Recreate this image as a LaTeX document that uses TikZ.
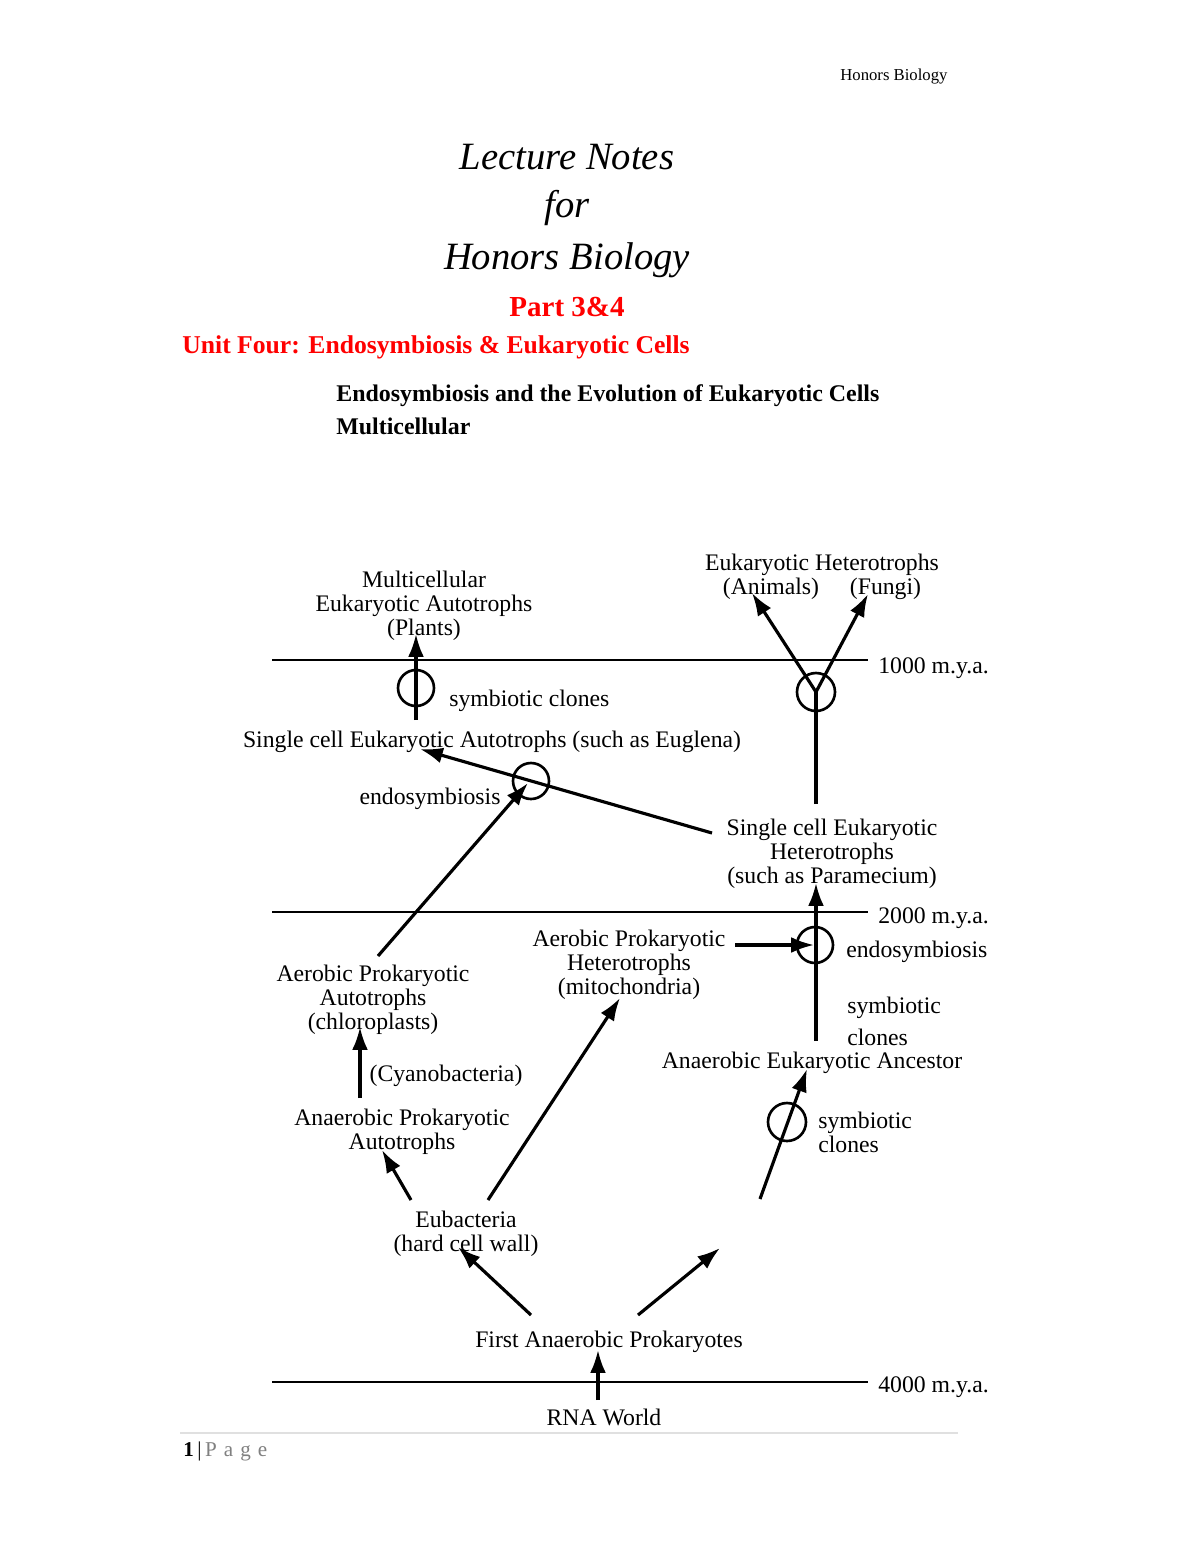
\documentclass[tikz,border=0pt]{standalone}
\usepackage{fontspec}
\setmainfont{Liberation Serif}
\usetikzlibrary{arrows.meta,positioning}

\tikzset{
  lbl/.style={align=center, inner sep=0pt, font=\fontsize{13.5}{13.6}\selectfont},
  ttl/.style={inner sep=0pt, font=\fontsize{22}{24}\selectfont\itshape},
  redhead/.style={inner sep=0pt, text=red, font=\bfseries},
  timeline/.style={line width=1.5pt},
  arr/.style={line width=1.8pt, -{Latex[length=13pt,width=9pt]}},
  plain/.style={line width=1.8pt},
  ring/.style={circle, draw, line width=1.5pt, minimum size=0.72cm, inner sep=0pt}
}

\begin{document}
\begin{tikzpicture}[x=0.02cm, y=-0.02cm]
\fill[white] (0,0) rectangle (1200,1553);
\useasboundingbox (0,0) rectangle (1200,1553);

% page head
\node[anchor=west, inner sep=0pt, font=\fontsize{9.5}{11}\selectfont] (hdr) at (840,77) {Honors Biology};
\node[ttl] (lec) at (567,157) {Lecture Notes};
\node[ttl] (for) at (567,208) {for};
\node[ttl] (hon) at (567,260) {Honors Biology};
\node[redhead, font=\fontsize{16.5}{18}\selectfont\bfseries] (part) at (567,307) {Part 3\&4};
\node[redhead, anchor=west, font=\fontsize{14.6}{16}\selectfont\bfseries] (unit) at (182,347) {Unit Four: Endosymbiosis \& Eukaryotic Cells};
\node[anchor=west, inner sep=0pt, font=\fontsize{13.6}{15}\selectfont\bfseries] (sub1) at (336,396) {Endosymbiosis and the Evolution of Eukaryotic Cells};
\node[anchor=west, inner sep=0pt, font=\fontsize{13.6}{15}\selectfont\bfseries] (sub2) at (336,426) {Multicellular};

% time lines
\draw[timeline] (272,660) -- (868,660);
\draw[timeline] (272,912) -- (868,912);
\draw[timeline] (272,1382) -- (868,1382);
\node[lbl, anchor=west] (m1) at (878,668) {1000 m.y.a.};
\node[lbl, anchor=west] (m2) at (878,918) {2000 m.y.a.};
\node[lbl, anchor=west] (m4) at (878,1387) {4000 m.y.a.};

% labels
\node[lbl] (plants) at (424,606) {Multicellular\\Eukaryotic Autotrophs\\(Plants)};
\node[lbl] (ehet) at (822,577) {Eukaryotic Heterotrophs\\(Animals)\hspace{1.3em}(Fungi)};
\node[lbl, anchor=west] (sc1) at (449,701) {symbiotic clones};
\node[lbl] (eugl) at (492,742) {Single cell Eukaryotic Autotrophs (such as Euglena)};
\node[lbl] (endo1) at (430,799) {endosymbiosis};
\node[lbl] (param) at (832,854) {Single cell Eukaryotic\\Heterotrophs\\(such as Paramecium)};
\node[lbl] (chlo) at (373,1000) {Aerobic Prokaryotic\\Autotrophs\\(chloroplasts)};
\node[lbl] (mito) at (629,965) {Aerobic Prokaryotic\\Heterotrophs\\(mitochondria)};
\node[lbl, anchor=west] (endo2) at (846,952) {endosymbiosis};
\node[lbl, anchor=west, align=left] (sc2) at (847,1021) {symbiotic\\[4.5pt]clones};
\node[lbl] (anc) at (812,1063) {Anaerobic Eukaryotic Ancestor};
\node[lbl] (cyan) at (446,1076) {(Cyanobacteria)};
\node[lbl] (anpa) at (402,1132) {Anaerobic Prokaryotic\\Autotrophs};
\node[lbl, anchor=west, align=left] (sc3) at (818,1132) {symbiotic\\clones};
\node[lbl] (eub) at (466,1234) {Eubacteria\\(hard cell wall)};
\node[lbl] (fap) at (609,1342) {First Anaerobic Prokaryotes};
\node[lbl] (rna) at (604,1417) {RNA World};

% rings
\node[ring] (c1) at (416,688) {};
\node[ring, minimum size=0.76cm] (c2) at (816,692) {};
\node[ring] (c3) at (531,781) {};
\node[ring] (c4) at (815,945) {};
\node[ring, minimum size=0.76cm] (c5) at (787,1122) {};

% arrow ends
\coordinate (a0) at (416,720);
\coordinate (a1) at (416,634);
\coordinate (b0) at (816,804);
\coordinate (b1) at (752,593);
\coordinate (b2) at (868,594);
\coordinate (d0) at (712,833);
\coordinate (d1) at (420,749);
\coordinate (e0) at (378,956);
\coordinate (e1) at (528,783);
\coordinate (f0) at (816,1041);
\coordinate (f1) at (816,883);
\coordinate (g0) at (735,945);
\coordinate (g1) at (814,945);
\coordinate (h0) at (360,1098);
\coordinate (h1) at (360,1027);
\coordinate (i0) at (488,1200);
\coordinate (i1) at (620,998);
\coordinate (j0) at (411,1200);
\coordinate (j1) at (382,1150);
\coordinate (k0) at (531,1315);
\coordinate (k1) at (458,1247);
\coordinate (l0) at (638,1315);
\coordinate (l1) at (720,1248);
\coordinate (n0) at (760,1199);
\coordinate (n1) at (807,1069);
\coordinate (r0) at (598,1400);
\coordinate (r1) at (598,1350);

% arrows
\draw[arr] (a0) -- (a1);
\draw[plain] (b0) -- (c2.center);
\draw[arr] (c2.center) -- (b1);
\draw[arr] (c2.center) -- (b2);
\draw[arr] (d0) -- (d1);
\draw[arr] (e0) -- (e1);
\draw[arr] (f0) -- (f1);
\draw[arr] (g0) -- (g1);
\draw[arr] (h0) -- (h1);
\draw[arr] (i0) -- (i1);
\draw[arr] (j0) -- (j1);
\draw[arr] (k0) -- (k1);
\draw[arr] (l0) -- (l1);
\draw[arr] (n0) -- (n1);
\draw[arr] (r0) -- (r1);

% page foot
\draw[black!12, line width=0.9pt] (180,1433) -- (958,1433);
\node[anchor=west, inner sep=0pt, font=\fontsize{12}{13}\selectfont] (foot) at (183,1451) {\textbf{1}\,|\,{\color{gray}P\,\,a\,\,g\,\,e}};
\end{tikzpicture}
\end{document}
